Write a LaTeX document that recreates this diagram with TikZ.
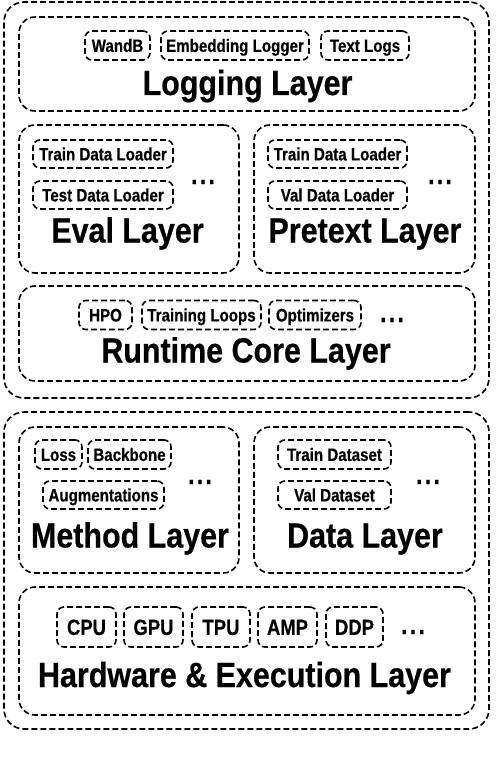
\documentclass[tikz,border=0pt]{standalone}
\usepackage{fontspec}
\newfontfamily\pillfont[FakeStretch=0.84, BoldFeatures={FakeBold=0.4}]{Liberation Sans}
\newfontfamily\titlefont[FakeStretch=0.87, BoldFeatures={FakeBold=0.5}]{Liberation Sans}
\newcommand{\mydots}{.\hspace{2.5pt}.\hspace{2.5pt}.}
\begin{document}
\begin{tikzpicture}[x=1pt,y=-1pt,
  dashline/.style={draw=black, line width=1.6pt, dash pattern=on 6pt off 3pt},
  outerbox/.style={dashline, rounded corners=20pt, inner sep=0pt},
  layerbox/.style={dashline, rounded corners=16pt, inner sep=0pt},
  pill/.style={dashline, rounded corners=7pt, inner sep=0pt, minimum height=29pt,
    text height=12.9pt, text depth=0pt, font=\pillfont\bfseries\fontsize{18}{18}\selectfont},
  hwpill/.style={pill, minimum height=40pt, text height=15.8pt, font=\pillfont\bfseries\fontsize{22}{22}\selectfont},
  dots/.style={inner sep=0pt, font=\pillfont\bfseries\fontsize{27}{27}\selectfont},
  title/.style={inner sep=0pt, anchor=base, font=\titlefont\bfseries\fontsize{35}{35}\selectfont}]
\useasboundingbox (0,0) rectangle (495,773);
% outer boxes
\node[outerbox, minimum width=485pt, minimum height=396pt] (top) at (246.5,200) {};
\node[outerbox, minimum width=485pt, minimum height=317pt] (bottom) at (246.5,570.5) {};
% Logging layer
\node[layerbox, minimum width=456pt, minimum height=94pt] (logbox) at (247,64) {};
\node[pill, minimum width=65pt] (wandb) at (117.5,45.5) {WandB};
\node[pill, minimum width=148pt] (emb) at (235,45.5) {Embedding Logger};
\node[pill, minimum width=88pt] (txt) at (365,45.5) {Text Logs};
\node[title] (logt) at (247.5,95) {Logging Layer};
% Eval layer
\node[layerbox, minimum width=220pt, minimum height=148pt] (evalbox) at (129,199) {};
\node[pill, minimum width=140pt, minimum height=28pt] (etrain) at (103,154) {Train Data Loader};
\node[pill, minimum width=140pt, minimum height=28pt] (etest) at (103,195) {Test Data Loader};
\node[dots] (edots) at (203,182) {\mydots};
\node[title] (evalt) at (127.5,242.5) {Eval Layer};
% Pretext layer
\node[layerbox, minimum width=221pt, minimum height=148pt] (prebox) at (364.5,199) {};
\node[pill, minimum width=139pt, minimum height=28pt] (ptrain) at (337.5,154) {Train Data Loader};
\node[pill, minimum width=139pt, minimum height=28pt] (pval) at (337.5,195) {Val Data Loader};
\node[dots] (pdots) at (440,182) {\mydots};
\node[title] (pret) at (365,242.5) {Pretext Layer};
% Runtime core layer
\node[layerbox, minimum width=456pt, minimum height=95pt] (rtbox) at (247,333.5) {};
\node[pill, minimum width=53pt] (hpo) at (105.5,315) {HPO};
\node[pill, minimum width=119pt] (loops) at (201.5,315) {Training Loops};
\node[pill, minimum width=92pt] (opt) at (315,315) {Optimizers};
\node[dots] (rdots) at (392,320) {\mydots};
\node[title] (rtt) at (246,362.5) {Runtime Core Layer};
% Method layer
\node[layerbox, minimum width=220pt, minimum height=146pt] (methbox) at (129,500) {};
\node[pill, minimum width=47pt] (loss) at (58.5,454.5) {Loss};
\node[pill, minimum width=83pt] (backbone) at (129.5,454.5) {Backbone};
\node[pill, minimum width=121pt, minimum height=28pt] (aug) at (103.5,495) {Augmentations};
\node[dots] (mdots) at (200,482) {\mydots};
\node[title] (metht) at (130,547.5) {Method Layer};
% Data layer
\node[layerbox, minimum width=221pt, minimum height=146pt] (databox) at (364.5,500) {};
\node[pill, minimum width=113pt] (trds) at (334.5,454.5) {Train Dataset};
\node[pill, minimum width=113pt, minimum height=28pt] (valds) at (334.5,495) {Val Dataset};
\node[dots] (ddots) at (428,482) {\mydots};
\node[title] (datat) at (365,547.5) {Data Layer};
% Hardware layer
\node[layerbox, minimum width=456pt, minimum height=128pt] (hwbox) at (247,651) {};
\node[hwpill, minimum width=59pt] (cpu) at (86.5,627) {CPU};
\node[hwpill, minimum width=59pt] (gpu) at (153.5,627) {GPU};
\node[hwpill, minimum width=58pt] (tpu) at (221,627) {TPU};
\node[hwpill, minimum width=59pt] (amp) at (287.5,627) {AMP};
\node[hwpill, minimum width=57pt] (ddp) at (354.5,627) {DDP};
\node[dots] (hdots) at (413,632) {\mydots};
\node[title] (hwt) at (244.5,687) {Hardware \& Execution Layer};
\end{tikzpicture}
\end{document}
